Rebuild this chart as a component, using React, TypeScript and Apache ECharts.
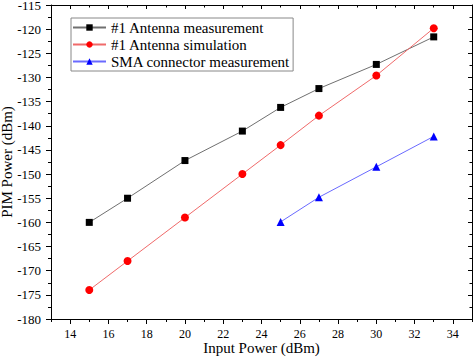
import React, { useEffect, useRef } from "react";
import * as echarts from "echarts";

const xMeasured = [15, 17, 20, 23, 25, 27, 30, 33];
const antennaMeasurement = [-160, -155, -147.2, -141.1, -136.2, -132.3, -127.3, -121.6];
const antennaSimulation = [-174, -168, -159, -150, -144, -137.9, -129.6, -119.8];
const xSma = [25, 27, 30, 33];
const smaMeasurement = [-159.9, -154.8, -148.5, -142.2];

const seriesNames = ["#1 Antenna measurement", "#1 Antenna simulation", "SMA connector measurement"];
const xTickValues = [14, 16, 18, 20, 22, 24, 26, 28, 30, 32, 34];

const FONT = "Liberation Serif";

export default function App() {
  const ref = useRef<HTMLDivElement>(null);
  useEffect(() => {
    if (!ref.current) return;
    const chart = echarts.init(ref.current, null, { renderer: "svg" });
    const axisColor = "#000";
    const pair = (xs: number[], ys: number[]) => xs.map((x, i) => [x, ys[i]]);
    const hiddenX = (position: string, inside: boolean, len: number) => ({
      type: "value", min: 13, max: 35, interval: 1, position,
      axisLine: { show: false, onZero: false },
      axisTick: { show: true, inside, length: len, lineStyle: { color: axisColor } },
      axisLabel: { show: false }, splitLine: { show: false },
    });
    chart.setOption({
      animation: false,
      backgroundColor: "#fff",
      textStyle: { fontFamily: FONT },
      grid: { left: 51, right: 2, top: 5, bottom: 44, containLabel: false, outerBoundsMode: "none" },
      legend: {
        data: seriesNames,
        orient: "vertical",
        left: 71,
        top: 18,
        itemWidth: 33,
        itemHeight: 8,
        itemGap: 2,
        padding: [2, 3, 2, 1],
        borderColor: "#888",
        borderWidth: 1,
        backgroundColor: "#fff",
        textStyle: { fontFamily: FONT, fontSize: 15, color: "#000", lineHeight: 15 },
      },
      xAxis: [
        {
          type: "value", min: 13, max: 35, position: "bottom",
          axisLine: { show: true, onZero: false, lineStyle: { color: axisColor, width: 1 } },
          axisTick: { show: true, length: 5, customValues: xTickValues, lineStyle: { color: axisColor } },
          axisLabel: {
            show: true, customValues: xTickValues,
            fontFamily: FONT, fontSize: 12, color: "#000", margin: 9,
          },
          splitLine: { show: false },
          name: "Input Power (dBm)", nameLocation: "middle", nameGap: 21, nameMoveOverlap: false,
          nameTextStyle: { fontFamily: FONT, fontSize: 15, color: "#000" },
        },
        {
          type: "value", min: 13, max: 35, position: "top",
          axisLine: { show: true, onZero: false, lineStyle: { color: axisColor, width: 1 } },
          axisTick: { show: true, inside: true, length: 4, customValues: xTickValues, lineStyle: { color: axisColor } },
          axisLabel: { show: false }, splitLine: { show: false },
        },
        hiddenX("bottom", false, 3),
        hiddenX("top", true, 2.5),
      ],
      yAxis: [
        {
          type: "value", min: -180, max: -115, interval: 5, position: "left",
          axisLine: { show: true, onZero: false, lineStyle: { color: axisColor, width: 1 } },
          axisTick: { show: true, length: 5, lineStyle: { color: axisColor } },
          minorTick: { show: true, splitNumber: 2, length: 3, lineStyle: { color: axisColor } },
          axisLabel: { show: true, fontFamily: FONT, fontSize: 13, color: "#000", margin: 10 },
          splitLine: { show: false },
          name: "PIM Power (dBm)", nameLocation: "middle", nameGap: 37, nameMoveOverlap: false,
          nameTextStyle: { fontFamily: FONT, fontSize: 15, color: "#000" },
        },
        {
          type: "value", min: -180, max: -115, interval: 5, position: "right",
          axisLine: { show: true, onZero: false, lineStyle: { color: axisColor, width: 1 } },
          axisTick: { show: true, inside: true, length: 4, lineStyle: { color: axisColor } },
          minorTick: { show: true, splitNumber: 2, length: 2.5, lineStyle: { color: axisColor } },
          axisLabel: { show: false }, splitLine: { show: false },
        },
      ],
      series: [
        {
          name: seriesNames[0], type: "line", xAxisIndex: 0, yAxisIndex: 0,
          data: pair(xMeasured, antennaMeasurement),
          symbol: "rect", symbolSize: 7,
          itemStyle: { color: "#000" },
          lineStyle: { color: "#707070", width: 1 },
        },
        {
          name: seriesNames[1], type: "line", xAxisIndex: 0, yAxisIndex: 0,
          data: pair(xMeasured, antennaSimulation),
          symbol: "circle", symbolSize: 8,
          itemStyle: { color: "#ff0000" },
          lineStyle: { color: "#f06a6a", width: 1 },
        },
        {
          name: seriesNames[2], type: "line", xAxisIndex: 0, yAxisIndex: 0,
          data: pair(xSma, smaMeasurement),
          symbol: "triangle", symbolSize: 8,
          itemStyle: { color: "#0000ff" },
          lineStyle: { color: "#6a6aff", width: 1 },
        },
      ],
    });
    return () => chart.dispose();
  }, []);
  return (
    <div
      ref={ref}
      style={{ position: "fixed", left: 0, top: 0, width: 474, height: 363 }}
    />
  );
}
